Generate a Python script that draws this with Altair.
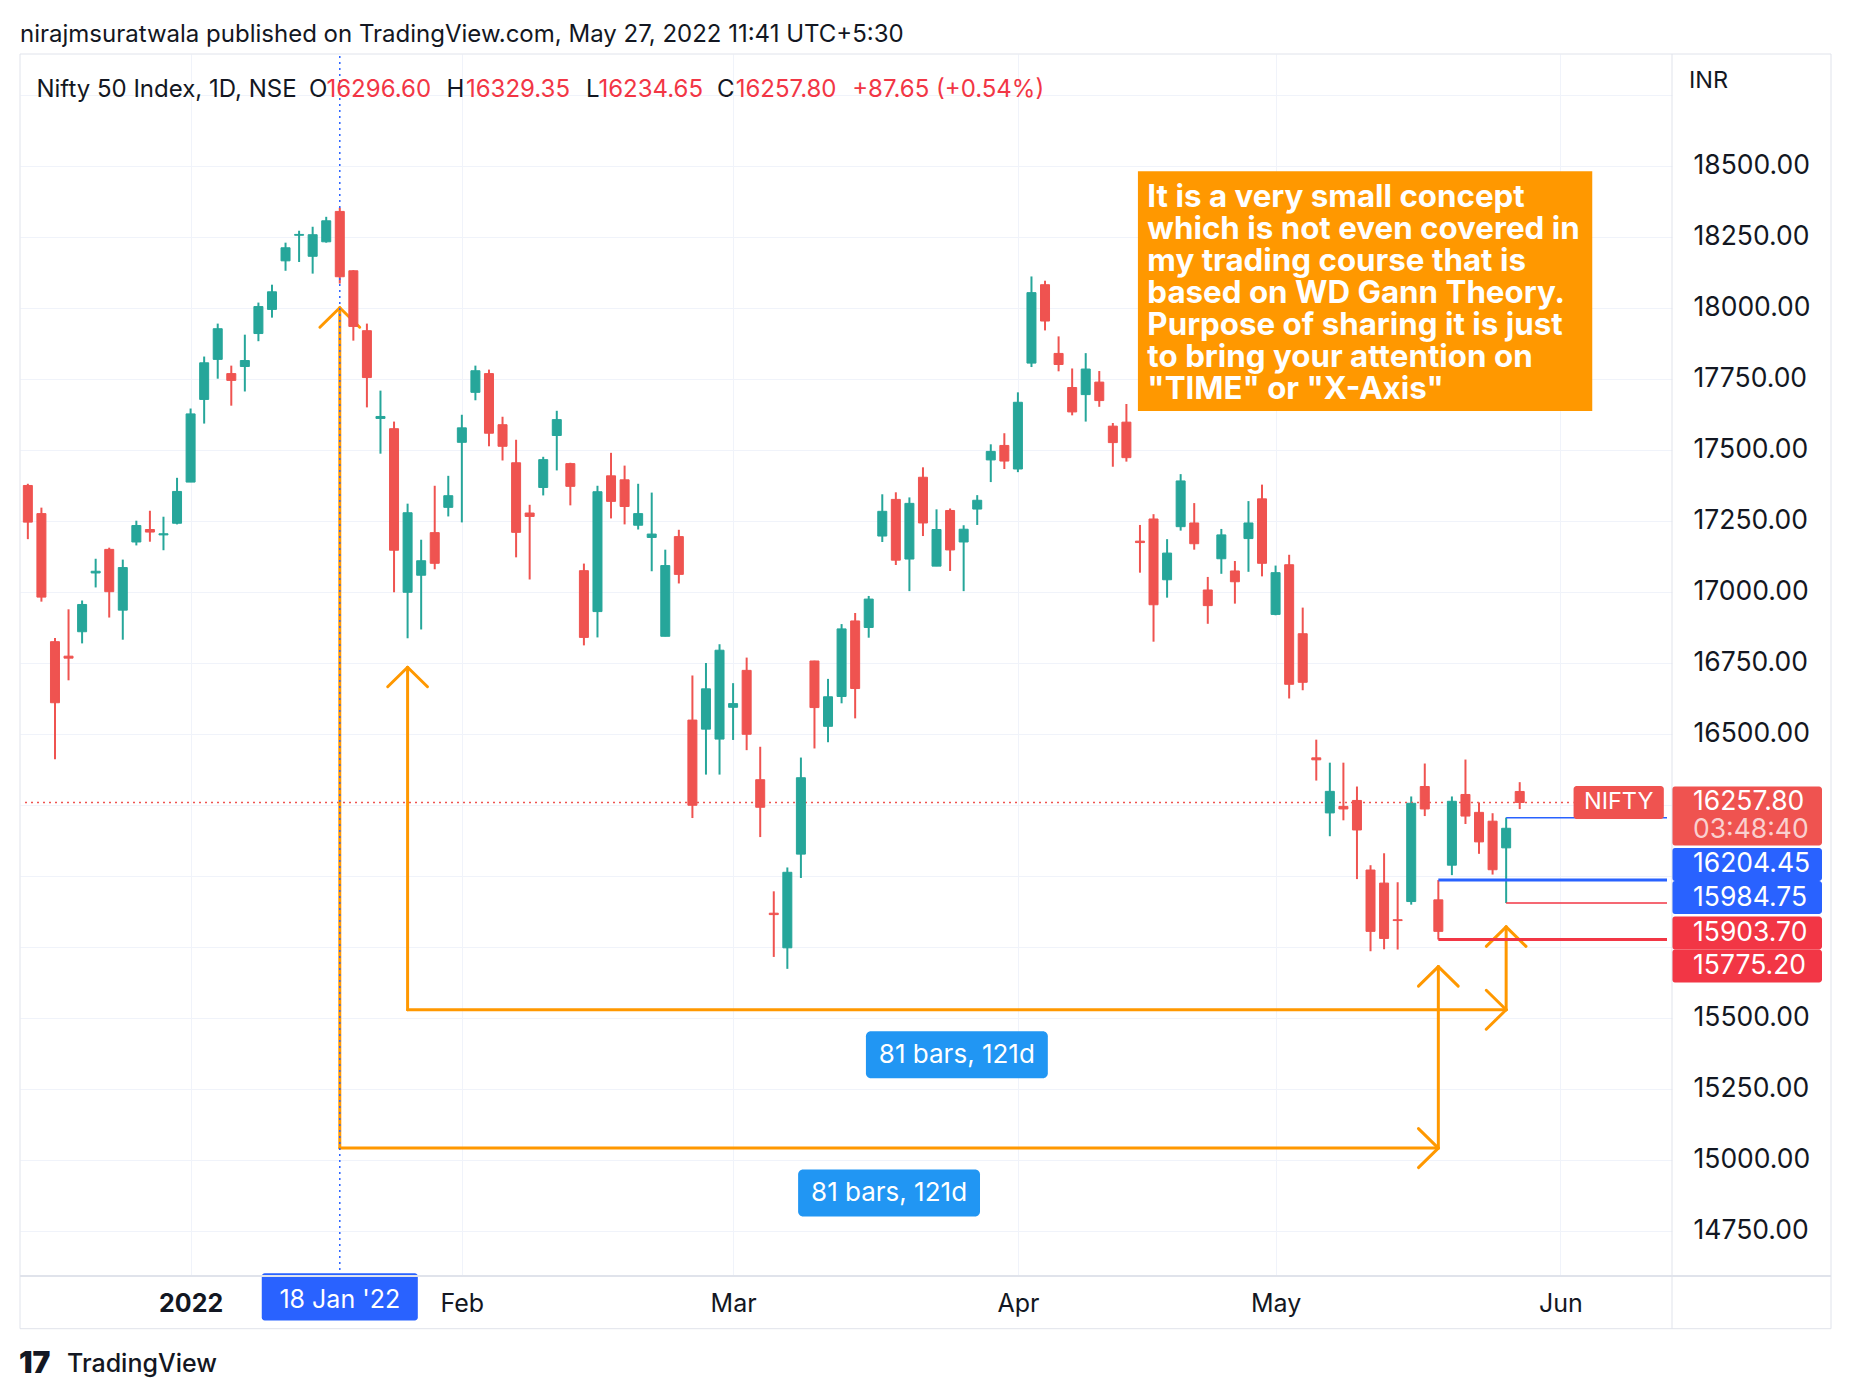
import altair as alt
import numpy as np
import pandas as pd

# ------------------------------------------------------------------ data
# trading-day index (0 = 3 Jan 2022), daily OHLC of Nifty 50
bar_index = list(range(-12, 99))
opens = [
    17374, 17275, 16824, 16773, 16859, 17066, 17149, 16935, 17175, 17219,
    17200, 17241, 17386, 17677, 17818, 17768, 17793, 17909, 17994, 18165,
    18255, 18181, 18232, 18339, 18130, 17919, 17610, 17574, 16998, 17058,
    17208, 17297, 17526, 17702, 17768, 17588, 17454, 17277, 17367, 17550,
    17451, 17074, 16930, 17408, 17394, 17234, 17191, 16843, 17194, 16548,
    16516, 16481, 16593, 16723, 16338, 15868, 15746, 16076, 16756, 16526,
    16631, 16897, 16874, 17196, 17325, 17115, 17403, 17090, 17286, 17175,
    17291, 17464, 17515, 17432, 17805, 18081, 17839, 17719, 17694, 17738,
    17583, 17597, 17178, 17256, 17042, 17229, 17242, 17006, 17116, 17073,
    17187, 17327, 16920, 17095, 16852, 16415, 16221, 16244, 16265, 16020,
    15974, 15845, 15909, 16314, 15915, 16037, 16286, 16223, 16192, 16098,
    16296.60,
]
highs = [
    17380, 17296, 16837, 16938, 16969, 17116, 17155, 17113, 17250, 17285,
    17264, 17401, 17645, 17828, 17944, 17796, 17905, 18018, 18081, 18229,
    18271, 18285, 18320, 18352, 18132, 17944, 17708, 17599, 17310, 17183,
    17373, 17408, 17623, 17796, 17782, 17616, 17535, 17306, 17475, 17637,
    17454, 17099, 17373, 17489, 17444, 17380, 17349, 17148, 17218, 16705,
    16749, 16815, 16678, 16768, 16454, 15945, 16029, 16416, 16757, 16693,
    16886, 16925, 16985, 17343, 17350, 17332, 17438, 17290, 17293, 17234,
    17340, 17519, 17558, 17702, 18110, 18095, 17899, 17786, 17840, 17777,
    17594, 17661, 17235, 17273, 17185, 17414, 17312, 17052, 17221, 17108,
    17319, 17377, 17092, 17130, 16944, 16479, 16398, 16398, 16314, 16037,
    16079, 15977, 16279, 16395, 15984.75, 16279, 16409, 16258, 16220, 16204.45,
    16329.35,
]
lows = [
    17185, 16965, 16410, 16688, 16818, 17015, 16909, 16831, 17163, 17176,
    17146, 17237, 17386, 17592, 17750, 17655, 17705, 17882, 17965, 18130,
    18161, 18120, 18229, 18085, 17884, 17649, 17486, 16998, 16836, 16867,
    17079, 17265, 17244, 17674, 17512, 17462, 17121, 17043, 17339, 17427,
    17304, 16811, 16839, 17258, 17237, 17219, 17072, 16843, 17029, 16203,
    16356, 16356, 16478, 16442, 16136, 15714, 15672, 15992, 16448, 16470,
    16607, 16554, 16838, 17175, 17094, 17002, 17196, 17090, 17073, 17002,
    17235, 17386, 17432, 17421, 17791, 17920, 17776, 17621, 17599, 17651,
    17440, 17458, 17067, 16824, 16979, 17215, 17148, 16887, 17063, 16958,
    17070, 17054, 16917, 16624, 16653, 16335, 16139, 16195, 15988, 15734,
    15741, 15740, 15898, 16210, 15775.20, 16002, 16182, 16077, 16004, 15903.70,
    16234.65,
]
closes = [
    17245, 16981, 16609, 16766, 16955, 17072, 17000, 17085, 17233, 17210,
    17204, 17353, 17626, 17806, 17926, 17744, 17814, 18004, 18056, 18211,
    18258, 18257, 18306, 18109, 17934, 17754, 17617, 17146, 17278, 17109,
    17100, 17338, 17577, 17778, 17558, 17512, 17209, 17265, 17465, 17606,
    17371, 16839, 17352, 17318, 17300, 17275, 17203, 17092, 17061, 16248,
    16658, 16794, 16606, 16498, 16241, 15863, 16012, 16345, 16592, 16630,
    16869, 16659, 16974, 17283, 17111, 17311, 17242, 17219, 17147, 17220,
    17322, 17494, 17460, 17667, 18053, 17953, 17800, 17633, 17784, 17673,
    17525, 17472, 17173, 16954, 17136, 17390, 17169, 16951, 17200, 17035,
    17242, 17100, 17067, 16674, 16681, 16408, 16297, 16235, 16161, 15804,
    15779, 15842, 16255, 16235, 15804, 16262, 16210, 16119, 16021, 16167,
    16257.80,
]

month_ticks = [0, 20, 40, 61, 80, 101]
month_labels = ["2022", "Feb", "Mar", "Apr", "May", "Jun"]
price_ticks = list(range(14750, 18751, 250))
# price-scale labels covered by tags / the INR header in the reference
covered_ticks = [15750, 16000, 16250, 18750]

last_price = 16257.80
crosshair_bar = 11
crosshair_label = "18 Jan '22"

# horizontal levels drawn from a bar to the price scale
level_bar = [92, 92, 97, 97]
level_price = [15984.75, 15775.20, 16204.45, 15903.70]
level_color = ["#2962FF", "#F23645", "#2962FF", "#F23645"]
level_width = [3, 3, 1.5, 1.5]

# orange "time" arrows: start bar, top tip, bottom level, end bar, end tip
arrow_start = [11, 16]
arrow_top = [18000, 16734]
arrow_bottom = [15041, 15528]
arrow_end = [92, 97]
arrow_end_tip = [15680, 15820]
range_text = ["81 bars, 121d", "81 bars, 121d"]

note_lines = [
    "It is a very small concept",
    "which is not even covered in",
    "my trading course that is",
    "based on WD Gann Theory.",
    "Purpose of sharing it is just",
    "to bring your attention on",
    "\"TIME\" or \"X-Axis\"",
]

header_text = "nirajmsuratwala published on TradingView.com, May 27, 2022 11:41 UTC+5:30"
legend_parts = ["Nifty 50 Index, 1D, NSE", "O", "16296.60", "H", "16329.35",
                "L", "16234.65", "C", "16257.80", "+87.65 (+0.54%)"]
legend_is_value = [False, False, True, False, True, False, True, False, True, True]

tag_text = ["16257.80", "16204.45", "15984.75", "15903.70", "15775.20"]
tag_color = ["#EF5350", "#2962FF", "#2962FF", "#F23645", "#F23645"]

# ------------------------------------------------------------------ geometry
LEFT, TOP = 20, 54
W, H = 1652, 1222
X0, X1 = -12.21, 108.86
Y0, Y1 = 14590.5, 18893.3
PX_PER_BAR = W / (X1 - X0)
PTS_PER_PX = (Y1 - Y0) / H


def bx(px):
    return X0 + (px - LEFT) / PX_PER_BAR


def py(px):
    return Y1 - (px - TOP) * PTS_PER_PX


FONT = "Inter"
TXT = "#131722"
UP, DOWN = "#26A69A", "#EF5350"
RED = "#F23645"
ORANGE = "#FF9800"
GRID = "#F0F3FA"
BORDER = "#E0E3EB"

xs = alt.Scale(domain=[X0, X1], nice=False, zero=False)
ys = alt.Scale(domain=[Y0, Y1], nice=False, zero=False)

x_label_expr = " : ".join(
    f"datum.value == {t} ? '{l}'" for t, l in zip(month_ticks, month_labels)
) + " : ''"
y_label_expr = (
    "indexof([" + ",".join(str(v) for v in covered_ticks) + "], datum.value) >= 0"
    " ? '' : format(datum.value, '.2f')"
)

x_axis = alt.Axis(
    values=month_ticks, labelExpr=x_label_expr, grid=True, gridColor=GRID,
    gridWidth=1, domain=False, ticks=False, tickSize=0, title=None,
    labelFont=FONT, labelFontSize=25, labelColor=TXT, labelPadding=27,
    labelBaseline="middle", labelFlush=False, labelOverlap=False,
    labelFontWeight={"condition": {"test": "datum.value == 0", "value": "bold"},
                     "value": "normal"},
)
y_axis = alt.Axis(
    orient="right", values=price_ticks, labelExpr=y_label_expr, grid=True,
    gridColor=GRID, gridWidth=1, domain=False, ticks=False, tickSize=0,
    title=None, labelFont=FONT, labelFontSize=26.5, labelColor=TXT,
    labelPadding=21, labelAlign="left", labelBaseline="middle",
    labelFlush=False, labelOverlap=False, labelBound=False,
)


def X(field):
    return alt.X(field, type="quantitative", scale=xs, axis=x_axis)


def Y(field):
    return alt.Y(field, type="quantitative", scale=ys, axis=y_axis)


one = pd.DataFrame({"a": [0]})

candles = pd.DataFrame({"idx": bar_index, "open": opens, "high": highs,
                        "low": lows, "close": closes})
candles["dir"] = np.where(candles["close"] >= candles["open"], "up", "down")
dir_scale = alt.Scale(domain=["up", "down"], range=[UP, DOWN])

# ------------------------------------------------------------------ layers
wicks = alt.Chart(candles).mark_rule(strokeWidth=2, clip=True).encode(
    x=X("idx"), y=Y("low"), y2="high",
    color=alt.Color("dir:N", scale=dir_scale, legend=None))
bodies = alt.Chart(candles).mark_bar(size=9, strokeWidth=1, clip=True).encode(
    x=X("idx"), y=Y("open"), y2="close",
    color=alt.Color("dir:N", scale=dir_scale, legend=None),
    stroke=alt.Stroke("dir:N", scale=dir_scale, legend=None))

frame = alt.Chart(one).mark_rect(filled=False, stroke=BORDER, strokeWidth=1).encode(
    x=alt.value(0), x2=alt.value(1811), y=alt.value(0), y2=alt.value(1274.7))
divider = alt.Chart(one).mark_rule(color=BORDER, strokeWidth=1).encode(
    x=alt.value(W), y=alt.value(0), y2=alt.value(1274.7))
time_line = alt.Chart(one).mark_rule(color=BORDER, strokeWidth=2).encode(
    x=alt.value(0), x2=alt.value(1811), y=alt.value(H))

price_line_df = pd.DataFrame({"x": [X0], "x2": [bx(1578)], "y": [last_price]})
price_line = alt.Chart(price_line_df).mark_rule(
    color=DOWN, strokeWidth=1.6, strokeDash=[2, 4]).encode(
    x=X("x"), x2="x2", y=Y("y"))

segs = []
AX = 20 / PX_PER_BAR
AY = 19.5 * PTS_PER_PX
for s, top, bot, e, tip in zip(arrow_start, arrow_top, arrow_bottom, arrow_end, arrow_end_tip):
    segs += [(s, top, s, bot), (s, bot, e, bot), (e, bot, e, tip),
             (s, top, s - AX, top - AY), (s, top, s + AX, top - AY),
             (e, bot, e - AX, bot + AY), (e, bot, e - AX, bot - AY),
             (e, tip, e - AX, tip - AY), (e, tip, e + AX, tip - AY)]
seg_df = pd.DataFrame(segs, columns=["x", "y", "x2", "y2"])
arrows = alt.Chart(seg_df).mark_rule(color=ORANGE, strokeWidth=3, strokeCap="round").encode(
    x=X("x"), x2="x2", y=Y("y"), y2="y2")

cross_df = pd.DataFrame({"x": [crosshair_bar], "y": [Y0], "y2": [Y1]})
crosshair = alt.Chart(cross_df).mark_rule(
    color="#2962FF", strokeWidth=1.5, strokeDash=[2, 4]).encode(
    x=X("x"), y=Y("y"), y2="y2")

level_layers = []
for b, p, c, w in zip(level_bar, level_price, level_color, level_width):
    d = pd.DataFrame({"x": [b], "x2": [X1], "y": [p]})
    level_layers.append(alt.Chart(d).mark_rule(color=c, strokeWidth=w).encode(
        x=X("x"), x2="x2", y=Y("y")))

# range labels
rl = pd.DataFrame({
    "cx": [(s + e) / 2 for s, e in zip(arrow_start, arrow_end)],
    "cy": [b - 45 * PTS_PER_PX for b in arrow_bottom],
    "t": range_text,
})
rl["x"] = rl["cx"] - 91.5 / PX_PER_BAR
rl["x2"] = rl["cx"] + 91.5 / PX_PER_BAR
rl["y"] = rl["cy"] - 23.5 * PTS_PER_PX
rl["y2"] = rl["cy"] + 23.5 * PTS_PER_PX
range_box = alt.Chart(rl).mark_rect(color="#2196F3", cornerRadius=5).encode(
    x=X("x"), x2="x2", y=Y("y"), y2="y2")
range_txt = alt.Chart(rl).mark_text(
    font=FONT, fontSize=26, color="white", align="center", baseline="middle").encode(
    x=X("cx"), y=Y("cy"), text="t:N")

# note box (one multi-line text block; y is the first line)
LINE_H = 32.0
note_box_df = pd.DataFrame({"x": [bx(1139.7)], "x2": [bx(1596.8)],
                            "y": [py(171.3)], "y2": [py(411.0)]})
note_box = alt.Chart(note_box_df).mark_rect(color=ORANGE).encode(
    x=X("x"), x2="x2", y=Y("y"), y2="y2")
note_df = pd.DataFrame({"t": ["\n".join(note_lines)],
                        "x": [bx(1149.2)],
                        "y": [py(198.0)]})
note_txt = alt.Chart(note_df).mark_text(
    font=FONT, fontSize=31.3, fontWeight="bold", color="white",
    align="left", baseline="middle", lineBreak="\n", lineHeight=LINE_H).encode(
    x=X("x"), y=Y("y"), text="t:N")

# NIFTY tag
nifty_df = pd.DataFrame({"x": [bx(1578)], "x2": [bx(1668.8)],
                         "y": [last_price - 16.5 * PTS_PER_PX],
                         "y2": [last_price + 16.5 * PTS_PER_PX],
                         "cx": [bx(1623.4)], "cy": [last_price], "t": ["NIFTY"]})
nifty_box = alt.Chart(nifty_df).mark_rect(color=DOWN, cornerRadius=3).encode(
    x=X("x"), x2="x2", y=Y("y"), y2="y2")
nifty_txt = alt.Chart(nifty_df).mark_text(
    font=FONT, fontSize=23.5, color="white", align="center", baseline="middle").encode(
    x=X("cx"), y=Y("cy"), text="t:N")

# price-scale tags (pixel layout, collision-stacked like the reference)
tag_top = [732.6, 794.0, 827.0, 862.5, 895.6]
tag_bot = [791.6, 827.0, 860.0, 895.6, 928.6]
tag_mid = [748.0, 810.3, 843.5, 879.0, 912.0]
tag_layers = []
for t, c, a, b, m in zip(tag_text, tag_color, tag_top, tag_bot, tag_mid):
    d = pd.DataFrame({"t": [t]})
    tag_layers.append(alt.Chart(d).mark_rect(color=c, cornerRadius=3).encode(
        x=alt.value(W), x2=alt.value(1802), y=alt.value(a), y2=alt.value(b)))
    tag_layers.append(alt.Chart(d).mark_text(
        font=FONT, fontSize=26.5, color="white", align="left", baseline="middle").encode(
        x=alt.value(1673), y=alt.value(m), text="t:N"))
timer = alt.Chart(pd.DataFrame({"t": ["03:48:40"]})).mark_text(
    font=FONT, fontSize=26.5, color="#FAD0CF", align="left", baseline="middle").encode(
    x=alt.value(1673), y=alt.value(776.3), text="t:N")

inr = alt.Chart(pd.DataFrame({"t": ["INR"]})).mark_text(
    font=FONT, fontSize=23.5, color=TXT, align="left", baseline="middle").encode(
    x=alt.value(1669), y=alt.value(27), text="t:N")

# crosshair date tag on the time scale
ct_df = pd.DataFrame({"x": [crosshair_bar - 78.5 / PX_PER_BAR],
                      "x2": [crosshair_bar + 78.5 / PX_PER_BAR],
                      "cx": [crosshair_bar], "t": [crosshair_label]})
ct_box = alt.Chart(ct_df).mark_rect(color="#2962FF", cornerRadius=3).encode(
    x=X("x"), x2="x2", y=alt.value(1219.2), y2=alt.value(1266.5))
ct_txt = alt.Chart(ct_df).mark_text(
    font=FONT, fontSize=25, color="white", align="center", baseline="middle").encode(
    x=X("cx"), y=alt.value(1246.4), text="t:N")

# header / legend / footer
header = alt.Chart(pd.DataFrame({"t": [header_text]})).mark_text(
    font=FONT, fontSize=24, color=TXT, align="left", baseline="middle").encode(
    x=alt.value(0), y=alt.value(-18.6), text="t:N")
legend_px = [31.5, 305.8, 323.3, 444.0, 463.6, 584.3, 596.9, 716.2, 735.0, 852.2]
leg_df = pd.DataFrame({"t": legend_parts, "v": legend_is_value,
                       "x": [bx(p) for p in legend_px],
                       "y": [py(89.8)] * len(legend_parts)})
legend_black = alt.Chart(leg_df[~leg_df["v"]]).mark_text(
    font=FONT, fontSize=24, color=TXT, align="left", baseline="middle").encode(
    x=X("x"), y=Y("y"), text="t:N")
legend_red = alt.Chart(leg_df[leg_df["v"]]).mark_text(
    font=FONT, fontSize=24, color=RED, align="left", baseline="middle").encode(
    x=X("x"), y=Y("y"), text="t:N")
logo = alt.Chart(pd.DataFrame({"t": ["17"]})).mark_text(
    font=FONT, fontSize=30, fontWeight=900, color=TXT, align="left",
    baseline="middle").encode(x=alt.value(-1), y=alt.value(1310), text="t:N")
brand = alt.Chart(pd.DataFrame({"t": ["TradingView"]})).mark_text(
    font=FONT, fontSize=25, fontWeight=500, color=TXT, align="left",
    baseline="middle").encode(x=alt.value(47), y=alt.value(1310), text="t:N")

chart = alt.layer(
    wicks, price_line, arrows, crosshair, bodies, *level_layers,
    range_box, range_txt, note_box, note_txt, nifty_box, nifty_txt,
    *tag_layers, timer, inr, ct_box, ct_txt,
    frame, divider, time_line, header, legend_black, legend_red, logo, brand,
).properties(
    width=W, height=H,
    autosize=alt.AutoSizeParams(type="none"),
    padding={"left": LEFT, "top": TOP, "right": 180, "bottom": 124},
    background="white",
).configure_view(stroke=None)

chart.save("out.html", embed_options={"renderer": "svg", "actions": False})
